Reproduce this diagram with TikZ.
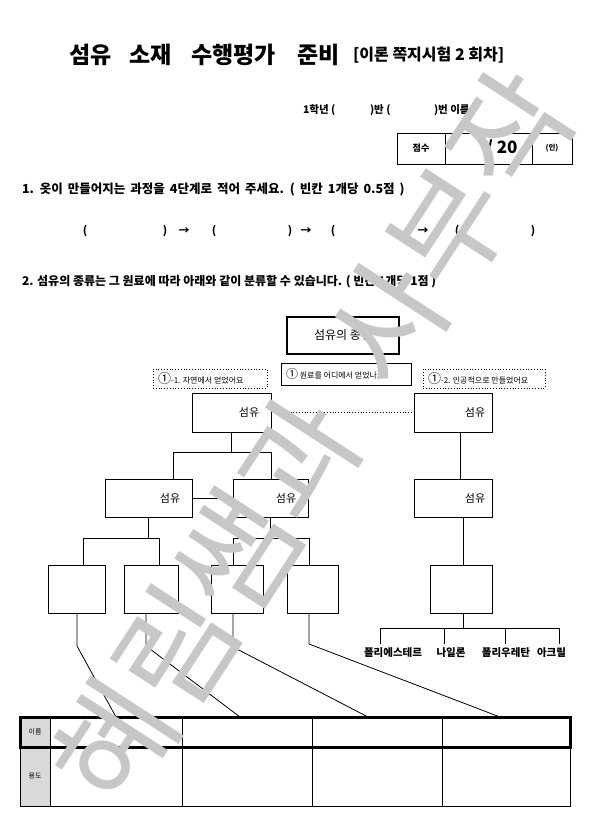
\documentclass[tikz,border=0pt]{standalone}
\usepackage{fontspec}
\setmainfont{Noto Sans CJK KR}
\usetikzlibrary{calc}
\tikzset{
  every node/.style={inner sep=0pt, outer sep=0pt},
  txt/.style={font=\fontsize{#1}{#1}\selectfont},
  btxt/.style={font=\bfseries\fontsize{#1}{#1}\selectfont},
  box/.style={draw, line width=0.8pt},
  dotbox/.style={draw, dotted, line width=0.8pt},
  ln/.style={line width=0.8pt},
  wm/.style={font=\fontsize{123}{123}\selectfont, text=black!22, rotate=57},
}
\begin{document}
\begin{tikzpicture}[x=1pt, y=-1pt]
\useasboundingbox (0,0) rectangle (595,834);
\fill[white] (0,0) rectangle (595,834);

% title
\node[btxt=23, anchor=west] (t1) at (69,55) {섬유};
\node[btxt=23, anchor=west] (t2) at (129,55) {소재};
\node[btxt=23, anchor=west] (t3) at (191,55) {수행평가};
\node[btxt=23, anchor=west] (t4) at (297,55) {준비};
\node[btxt=16, anchor=west] (t5) at (353,55) {[이론 쪽지시험 2 회차]};

% header
\node[btxt=10.5, anchor=west] (h1) at (303,110) {1학년 (};
\node[btxt=10.5, anchor=west] (h2) at (370,110) {)반 (};
\node[btxt=10.5, anchor=west] (h3) at (434,110) {)번 이름 :};

% score table
\node[box, minimum width=48, minimum height=31, anchor=north west] (s1) at (397,133) {};
\node[box, minimum width=87, minimum height=31, anchor=north west] (s2) at (445,133) {};
\node[box, minimum width=40, minimum height=31, anchor=north west] (s3) at (532,133) {};
\node[btxt=9] (s1t) at (s1.center) {점수};
\node[btxt=17] (s2t) at (502,148) {/ 20};
\node[btxt=7.5] (s3t) at (s3.center) {(인)};

% question 1
\node[btxt=12.5, anchor=west] (q1) at (22,190) {\spaceskip=5pt\relax 1. 옷이 만들어지는 과정을 4단계로 적어 주세요. ( 빈칸 1개당 0.5점 )};
\foreach \x/\s [count=\i] in {85/{(},165/{)},184/{→},214/{(},290/{)},306/{→},333/{(},409/{)},423/{→},457/{(},533/{)}}
  \node[btxt=11] (b\i) at (\x,231) {\s};

% question 2
\node[btxt=12, anchor=west] (q2) at (22,282) {2. 섬유의 종류는 그 원료에 따라 아래와 같이 분류할 수 있습니다. ( 빈칸 1개당 1점 )};

% tree
\node[draw, line width=2.8pt, minimum width=112, minimum height=37, txt=12] (kind) at (343,335.5) {섬유의 종류};
\node[dotbox, minimum width=114, minimum height=19] (d1) at (210,378.5) {};
\node[txt=8, anchor=west] (d1t) at (158,378.5) {\fontsize{13}{13}\selectfont ①\fontsize{8}{8}\selectfont-1. 자연에서 얻었어요};
\node[box, minimum width=130, minimum height=22] (qb) at (346,374) {};
\node[txt=8, anchor=west] (qbt) at (286,374) {\fontsize{12}{12}\selectfont ①\fontsize{8}{8}\selectfont\ 원료를 어디에서 얻었나요?};
\node[dotbox, minimum width=122, minimum height=19] (d2) at (484,378.5) {};
\node[txt=8, anchor=west] (d2t) at (428,378.5) {\fontsize{13}{13}\selectfont ①\fontsize{8}{8}\selectfont-2. 인공적으로 만들었어요};

\node[box, minimum width=79, minimum height=39] (L1L) at (231.5,412.5) {};
\node[box, minimum width=78, minimum height=39] (L1R) at (453,412.5) {};
\node[txt=11] (L1Lt) at (249,412.5) {섬유};
\node[txt=11] (L1Rt) at (475,412.5) {섬유};

\node[box, minimum width=87, minimum height=38] (A) at (148.5,498) {};
\node[box, minimum width=75, minimum height=38] (B) at (270.5,498) {};
\node[box, minimum width=78, minimum height=38] (L2R) at (453,498) {};
\node[txt=11] (At) at (170,498) {섬유};
\node[txt=11] (Bt) at (286,498) {섬유};
\node[txt=11] (L2Rt) at (475,498) {섬유};

\node[box, minimum width=57, minimum height=48] (C) at (76.5,589) {};
\node[box, minimum width=54, minimum height=48] (D) at (151,589) {};
\node[box, minimum width=52, minimum height=48] (E) at (237,589) {};
\node[box, minimum width=51, minimum height=48] (F) at (312.5,589) {};
\node[box, minimum width=62, minimum height=48] (G) at (461,589) {};

% labels under G
\node[btxt=10.5] (p1) at (393,653) {폴리에스테르};
\node[btxt=10.5] (p2) at (451,653) {나일론};
\node[btxt=10.5] (p3) at (506,653) {폴리우레탄};
\node[btxt=10.5] (p4) at (551.5,653) {아크릴};

% connectors
\draw[ln, dotted] (L1L.east) -- (L1R.west);
\coordinate (j1l) at (173,452); \coordinate (j1r) at (271,452);
\draw[ln] (L1L.south) -- (L1L.south |- j1l);
\draw[ln] (j1l |- A.north) -- (j1l) -- (j1r) -- (j1r |- B.north);
\draw[ln] (A.east) -- (B.west);
\draw[ln] ([xshift=7pt]L1R.south) -- ([xshift=7pt]L2R.north);
\draw[ln] ([xshift=10pt]L2R.south) -- ([xshift=2pt]G.north);

\coordinate (j2l) at (83,538); \coordinate (j2r) at (159,538);
\draw[ln] (A.south) -- (A.south |- j2l);
\draw[ln] (j2l |- C.north) -- (j2l) -- (j2r) -- (j2r |- D.north);
\coordinate (j3l) at (233,538); \coordinate (j3r) at (309,538);
\draw[ln] (B.south) -- (B.south |- j3l);
\draw[ln] (j3l |- E.north) -- (j3l) -- (j3r) -- (j3r |- F.north);

\coordinate (jg) at (463,628);
\coordinate (g1) at (380,628); \coordinate (g2) at (444,628);
\coordinate (g3) at (505,628); \coordinate (g4) at (559,628);
\draw[ln] ([xshift=2pt]G.south) -- (jg);
\draw[ln] (g1) -- (g4);
\foreach \g in {g1,g2,g3,g4} \draw[ln] (\g) -- ++(0,16);

% table
\fill[black!15] (20,717) rectangle (50,806);
\coordinate (tc) at (116,717); \coordinate (td) at (240,717);
\coordinate (te) at (368,717); \coordinate (tf) at (500,717);
\coordinate (kc) at (77,646); \coordinate (kd) at (146,646);
\coordinate (ke) at (233,647); \coordinate (kf) at (309,644);
\draw[ln] (kc |- C.south) -- (kc) -- (tc);
\draw[ln] (kd |- D.south) -- (kd) -- (td);
\draw[ln] (ke |- E.south) -- (ke) -- (te);
\draw[ln] (kf |- F.south) -- (kf) -- (tf);

\draw[ln] (20,747) rectangle (570,806);
\foreach \x in {50,182,312,442} \draw[ln] (\x,717) -- (\x,806);
\draw[line width=3pt] (20,717) rectangle (570,747);
\node[txt=7] (r1) at (35,732) {이름};
\node[txt=7] (r2) at (35,776) {용도};

% watermark
\node[wm] (wmk) at (312,438) {혜림쌤과\hspace{0.4em}사부작};
\end{tikzpicture}
\end{document}
